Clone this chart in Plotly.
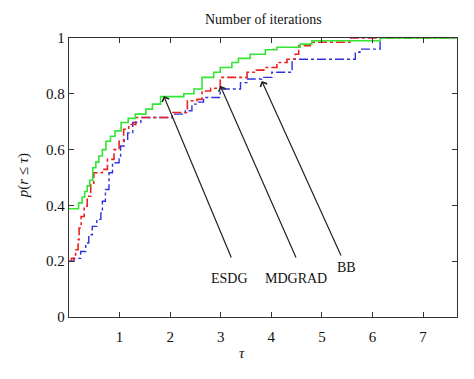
import plotly.graph_objects as go

# ---- data ----
esdg_tau = [0, 0.19, 0.26, 0.31, 0.36, 0.41, 0.47, 0.53, 0.59, 0.66, 0.73, 0.82, 0.91, 1.03, 1.17,
            1.31, 1.52, 1.65, 1.81, 2.27, 2.47, 2.63, 2.86, 2.99, 3.22, 3.35, 3.58, 3.88, 4.11, 4.57,
            4.80, 6.15, 7.67]
esdg_p = [0.388, 0.409, 0.43, 0.45, 0.47, 0.49, 0.535, 0.555, 0.577, 0.60, 0.63, 0.648, 0.667, 0.697,
          0.712, 0.727, 0.745, 0.763, 0.79, 0.80, 0.817, 0.859, 0.877, 0.894, 0.912, 0.927, 0.942,
          0.958, 0.967, 0.978, 0.99, 1.0, 1.0]

mdgrad_tau = [0, 0.05, 0.13, 0.18, 0.20, 0.24, 0.30, 0.36, 0.43, 0.49, 0.66, 0.76, 0.89, 0.99, 1.08,
              1.18, 1.32, 2.04, 2.34, 2.53, 2.63, 2.80, 2.99, 3.52, 3.70, 3.85, 4.11, 4.31, 4.47, 4.54,
              4.77, 5.55, 7.67]
mdgrad_p = [0.20, 0.21, 0.241, 0.277, 0.319, 0.36, 0.397, 0.433, 0.475, 0.517, 0.529, 0.565, 0.60,
            0.63, 0.673, 0.69, 0.715, 0.733, 0.775, 0.78, 0.81, 0.82, 0.859, 0.877, 0.885, 0.894,
            0.912, 0.924, 0.942, 0.972, 0.985, 1.0, 1.0]

bb_tau = [0, 0.10, 0.23, 0.33, 0.39, 0.46, 0.55, 0.63, 0.66, 0.72, 0.79, 0.86, 0.99, 1.02, 1.09, 1.16,
          1.26, 1.42, 2.04, 2.30, 2.43, 2.53, 2.66, 2.99, 3.39, 3.52, 3.81, 4.01, 4.41, 5.66, 5.75,
          6.15, 7.67]
bb_p = [0.20, 0.21, 0.235, 0.265, 0.295, 0.325, 0.35, 0.373, 0.415, 0.457, 0.517, 0.553, 0.571, 0.613,
        0.637, 0.66, 0.697, 0.715, 0.727, 0.739, 0.763, 0.77, 0.787, 0.817, 0.84, 0.853, 0.859, 0.877,
        0.924, 0.949, 0.96, 1.0, 1.0]

x_ticks = [1, 2, 3, 4, 5, 6, 7]
y_ticks = [0, 0.2, 0.4, 0.6, 0.8, 1]
y_tick_text = ["0", "0.2", "0.4", "0.6", "0.8", "1"]

# labels: name, text position, arrow tip, arrow tail
labels = [
    ("ESDG", 3.17, 0.137, 1.874, 0.792, 3.22, 0.208),
    ("MDGRAD", 4.49, 0.137, 2.99, 0.829, 4.50, 0.208),
    ("BB", 5.48, 0.176, 3.81, 0.846, 5.39, 0.215),
]

FONT = "Liberation Serif"

fig = go.Figure()
fig.add_trace(go.Scatter(x=bb_tau, y=bb_p, mode="lines", line_shape="hv",
                         line=dict(color="#3030e0", width=1.4, dash="dashdot"), name="BB"))
fig.add_trace(go.Scatter(x=mdgrad_tau, y=mdgrad_p, mode="lines", line_shape="hv",
                         line=dict(color="#ee2020", width=1.6, dash="dashdot"), name="MDGRAD"))
fig.add_trace(go.Scatter(x=esdg_tau, y=esdg_p, mode="lines", line_shape="hv",
                         line=dict(color="#33e633", width=1.6), name="ESDG"))

annotations = []
for name, tx, ty, hx, hy, ax, ay in labels:
    annotations.append(dict(x=hx, y=hy, ax=ax, ay=ay, xref="x", yref="y", axref="x", ayref="y",
                            text="", showarrow=True, arrowhead=4, arrowsize=1.2, arrowwidth=1.2,
                            arrowcolor="#222222", standoff=0))
    annotations.append(dict(x=tx, y=ty, xref="x", yref="y", text=name, showarrow=False,
                            font=dict(family=FONT, size=14, color="#111111")))

annotations.append(dict(x=0.5, y=1.1, xref="paper", yref="paper", text="Number of iterations",
                        showarrow=False, font=dict(family=FONT, size=14, color="#111111")))
annotations.append(dict(x=0.446, y=-0.165, xref="paper", yref="paper", text="<i>τ</i>",
                        showarrow=False, font=dict(family=FONT, size=15, color="#111111")))
annotations.append(dict(x=-0.145, y=0.505, xref="paper", yref="paper",
                        text="<i>p</i>(<i>r</i> ≤ <i>τ</i>)", textangle=-90,
                        showarrow=False, font=dict(family=FONT, size=15, color="#111111")))

axis_common = dict(showline=True, linecolor="#333333", linewidth=1.3, mirror="ticks",
                   ticks="inside", ticklen=5, tickcolor="#333333", showgrid=False, zeroline=False,
                   tickfont=dict(family=FONT, size=15, color="#111111"))

# page body has an 8px margin; figure sized so the plot area lands where the reference has it
fig.update_layout(
    width=458, height=363,
    margin=dict(l=61, r=9, t=30, b=54),
    paper_bgcolor="white", plot_bgcolor="white",
    showlegend=False,
    xaxis=dict(range=[0, 7.67], tickvals=x_ticks, ticklabelstandoff=6, **axis_common),
    yaxis=dict(range=[0, 1], tickvals=y_ticks, ticktext=y_tick_text, **axis_common),
    annotations=annotations,
)

fig.write_html("out.html")
